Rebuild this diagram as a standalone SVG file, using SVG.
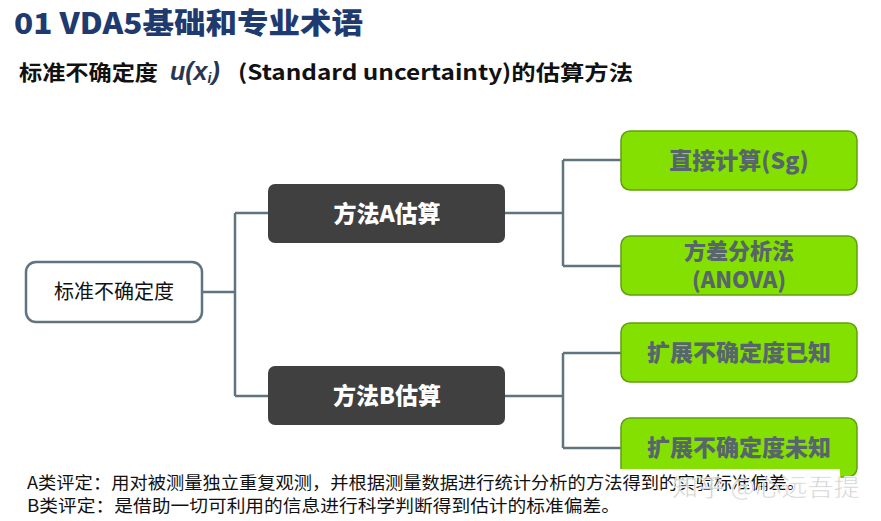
<svg xmlns="http://www.w3.org/2000/svg" width="881" height="521" viewBox="0 0 881 521">
<style>
.cjk{font-family:"Noto Sans CJK SC","Noto Sans",sans-serif}
.conn{fill:none;stroke:#5f7380;stroke-width:2.5}
.dark rect{fill:#404040;stroke:none}
.dark text{fill:#ffffff;font-size:23px;font-weight:900;text-anchor:middle}
.leaf rect{fill:#84e000;stroke:#5fa010;stroke-width:1.5}
.leaf text{fill:#56666b;font-size:23px;font-weight:900;text-anchor:middle}
</style>
<rect x="0" y="0" width="881" height="521" fill="#ffffff"/>
<text x="14" y="34" class="cjk" font-size="29" font-weight="900" fill="#1f3a6e" textLength="349" lengthAdjust="spacingAndGlyphs">01 VDA5基础和专业术语</text>
<g class="cjk" font-size="21" font-weight="700" fill="#111111">
<text x="19" y="80" textLength="139" lengthAdjust="spacingAndGlyphs">标准不确定度</text>
<text x="170" y="80" font-style="italic" fill="#2a3550" font-weight="700" font-family="Liberation Sans, sans-serif" font-size="25">u(x<tspan font-size="14" dy="3">i</tspan><tspan dy="-3">)</tspan></text>
<text x="238" y="80" textLength="395" lengthAdjust="spacingAndGlyphs">(Standard uncertainty)的估算方法</text>
</g>
<g id="connectors">
<path class="conn" d="M202,292 H235 M235,213 V396 M235,213 H268 M235,396 H268"/>
<path class="conn" d="M505,213 H563 M563,160 V266 M563,160 H621 M563,266 H621"/>
<path class="conn" d="M505,396 H563 M563,353 V448 M563,353 H621 M563,448 H621"/>
</g>
<g id="root">
<rect x="26" y="262" width="176" height="60" rx="10" fill="#ffffff" stroke="#5f7380" stroke-width="2.5"/>
<text x="114" y="299" class="cjk" font-size="20" text-anchor="middle" fill="#111111">标准不确定度</text>
</g>
<g id="methodA" class="dark cjk">
<rect x="268" y="184" width="237" height="59" rx="7"/>
<text x="387" y="222">方法A估算</text>
</g>
<g id="methodB" class="dark cjk">
<rect x="268" y="366" width="237" height="59" rx="7"/>
<text x="387" y="404">方法B估算</text>
</g>
<g id="sg" class="leaf cjk">
<rect x="621" y="131" width="236" height="59" rx="9"/>
<text x="739" y="169">直接计算(Sg)</text>
</g>
<g id="anova" class="leaf cjk">
<rect x="621" y="236" width="236" height="59" rx="9"/>
<text x="739" y="259" style="font-size:22px">方差分析法</text>
<text x="739" y="288" style="font-size:22px">(ANOVA)</text>
</g>
<g id="known" class="leaf cjk">
<rect x="621" y="323" width="236" height="59" rx="9"/>
<text x="739" y="361">扩展不确定度已知</text>
</g>
<g id="unknown" class="leaf cjk">
<rect x="621" y="418" width="236" height="59" rx="9"/>
<text x="739" y="456">扩展不确定度未知</text>
</g>
<rect x="20" y="469" width="820" height="52" fill="#ffffff"/>
<g class="cjk" font-size="17.5" fill="#111111">
<text x="27" y="489" textLength="778" lengthAdjust="spacingAndGlyphs">A类评定：用对被测量独立重复观测，并根据测量数据进行统计分析的方法得到的实验标准偏差。</text>
<text x="27" y="512" textLength="593" lengthAdjust="spacingAndGlyphs">B类评定：是借助一切可利用的信息进行科学判断得到估计的标准偏差。</text>
</g>
<text x="672" y="496" class="cjk" font-size="24" fill="#c8c8c8" fill-opacity="0.85" stroke="#ffffff" stroke-width="0.6" textLength="188" lengthAdjust="spacingAndGlyphs">知乎 @心远吾提</text>
</svg>
